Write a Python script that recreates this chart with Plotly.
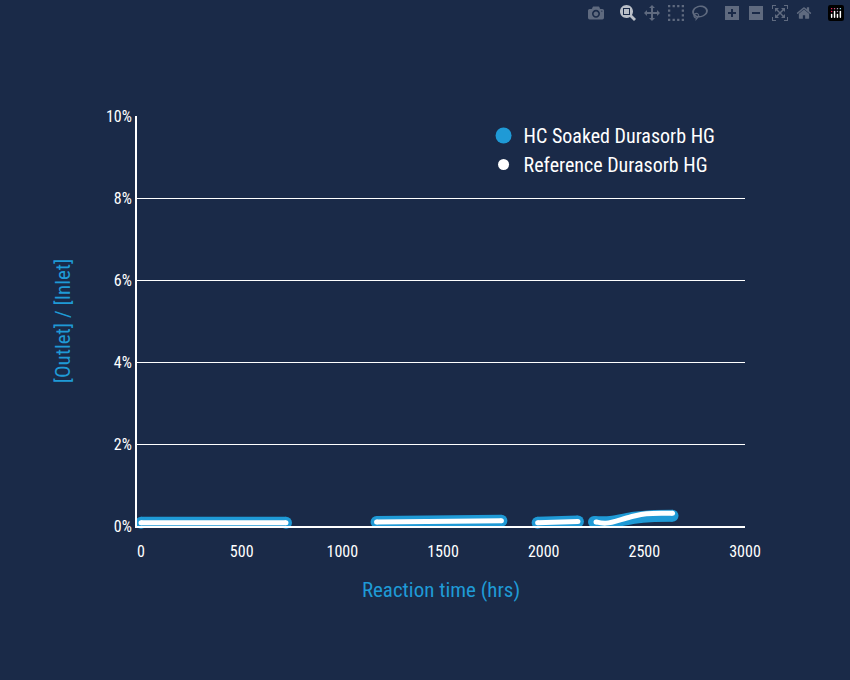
import plotly.graph_objects as go

segments_x = [
    [0, 720],
    [1170, 1790],
    [1970, 2170],
    [2250, 2330, 2450, 2530, 2640],
]
hc_y = [
    [0.08, 0.08],
    [0.10, 0.13],
    [0.08, 0.11],
    [0.10, 0.10, 0.20, 0.24, 0.25],
]
ref_y = [
    [0.08, 0.08],
    [0.10, 0.13],
    [0.08, 0.11],
    [0.10, 0.07, 0.22, 0.30, 0.31],
]
ref_x4 = [2260, 2310, 2430, 2510, 2640]

BG = "#1a2a48"
BLUE = "#1f9ad6"
fig = go.Figure()
for xs, ys in zip(segments_x, hc_y):
    fig.add_trace(go.Scatter(x=xs, y=ys, mode="lines", showlegend=False, cliponaxis=False,
                             line=dict(color=BLUE, width=12, shape="spline")))
    fig.add_trace(go.Scatter(x=[xs[0], xs[-1]], y=[ys[0], ys[-1]], mode="markers",
                             showlegend=False, cliponaxis=False,
                             marker=dict(color=BLUE, size=12)))
for i, (xs, ys) in enumerate(zip(segments_x, ref_y)):
    if i == 3:
        xs = ref_x4
    fig.add_trace(go.Scatter(x=xs, y=ys, mode="lines", showlegend=False, cliponaxis=False,
                             line=dict(color="white", width=5, shape="spline")))
    fig.add_trace(go.Scatter(x=[xs[0], xs[-1]], y=[ys[0], ys[-1]], mode="markers",
                             showlegend=False, cliponaxis=False,
                             marker=dict(color="white", size=5)))
fig.add_trace(go.Scatter(x=[None], y=[None], mode="markers", name="HC Soaked Durasorb HG",
                         marker=dict(color=BLUE, size=16)))
fig.add_trace(go.Scatter(x=[None], y=[None], mode="markers", name="Reference Durasorb HG",
                         marker=dict(color="white", size=11)))
font = "Liberation Sans Narrow, Roboto Condensed, Roboto, sans-serif"
fig.update_layout(
    width=850, height=680, paper_bgcolor=BG, plot_bgcolor=BG,
    margin=dict(l=137, r=105, t=116, b=154),
    font=dict(family=font, color="white", size=15),
    showlegend=True,
    legend=dict(x=0.57, y=1.0, xanchor="left", yanchor="top", bgcolor="rgba(0,0,0,0)",
                font=dict(size=20, color="white"), itemsizing="trace"),
    xaxis=dict(range=[-20, 3000], tickvals=[0, 500, 1000, 1500, 2000, 2500, 3000],
               showgrid=False, zeroline=False, showline=True, linecolor="white", linewidth=2,
               ticks="", ticklabelstandoff=10, tickfont=dict(size=16),
               title=dict(text="Reaction time (hrs)", font=dict(color=BLUE, size=21), standoff=22)),
    yaxis=dict(range=[0, 10], tickvals=[0, 2, 4, 6, 8, 10],
               ticktext=["0%", "2%", "4%", "6%", "8%", "10%"],
               showgrid=True, gridcolor="white", gridwidth=1, zeroline=False,
               showline=True, linecolor="white", linewidth=2, ticks="", tickfont=dict(size=16),
               title=dict(text="[Outlet] / [Inlet]", font=dict(color=BLUE, size=21), standoff=30)),
)
fig.write_html("out.html",
               post_script="document.body.style.margin='0';document.body.style.background='#1a2a48';")
